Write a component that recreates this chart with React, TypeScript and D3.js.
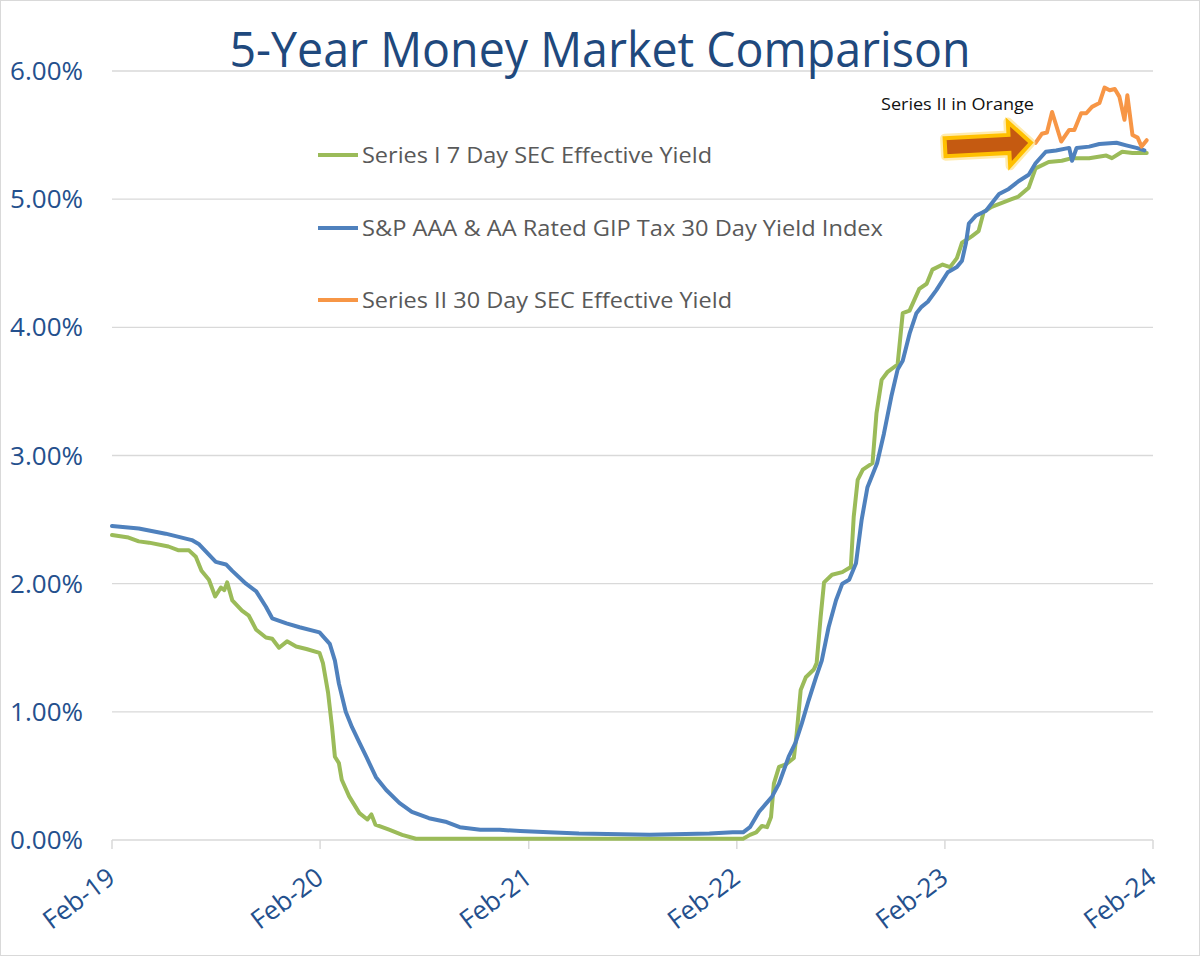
import { useEffect, useRef } from 'react'
import * as d3 from 'd3'

// axis
const xTickDates = ['2019-02-01', '2020-02-01', '2021-02-01', '2022-02-01', '2023-02-01', '2024-02-01']
const xTickLabels = ['Feb-19', 'Feb-20', 'Feb-21', 'Feb-22', 'Feb-23', 'Feb-24']
const yTicks = [0, 1, 2, 3, 4, 5, 6]

// Series I 7 Day SEC Effective Yield (green)
const seriesIDates = [
  '2019-02-01', '2019-03-02', '2019-03-20', '2019-04-07', '2019-05-11', '2019-05-29', '2019-06-16',
  '2019-06-28', '2019-07-08', '2019-07-21', '2019-08-01', '2019-08-11', '2019-08-17', '2019-08-22',
  '2019-08-31', '2019-09-17', '2019-09-29', '2019-10-12', '2019-10-29', '2019-11-09', '2019-11-21',
  '2019-12-05', '2019-12-21', '2020-01-08', '2020-01-31', '2020-02-06', '2020-02-15', '2020-02-22',
  '2020-02-27', '2020-03-05', '2020-03-10', '2020-03-23', '2020-04-10', '2020-04-24', '2020-05-01',
  '2020-05-08', '2020-06-01', '2020-06-24', '2020-07-18', '2021-02-01', '2022-02-12', '2022-02-24',
  '2022-03-07', '2022-03-17', '2022-03-26', '2022-04-02', '2022-04-07', '2022-04-16', '2022-04-28',
  '2022-05-12', '2022-05-17', '2022-05-24', '2022-06-02', '2022-06-16', '2022-06-21', '2022-06-28',
  '2022-07-04', '2022-07-18', '2022-08-05', '2022-08-20', '2022-08-25', '2022-09-01', '2022-09-10',
  '2022-09-27', '2022-10-04', '2022-10-13', '2022-10-23', '2022-11-10', '2022-11-19', '2022-12-01',
  '2022-12-18', '2022-12-31', '2023-01-10', '2023-01-28', '2023-02-10', '2023-02-22', '2023-03-03',
  '2023-03-20', '2023-04-01', '2023-04-10', '2023-04-24', '2023-05-29', '2023-06-10', '2023-06-28',
  '2023-07-10', '2023-08-02', '2023-08-25', '2023-09-12', '2023-10-12', '2023-11-11', '2023-11-21',
  '2023-12-09', '2023-12-27', '2024-01-21'
]
const seriesIValues = [
  2.38, 2.36, 2.33, 2.32, 2.29, 2.26, 2.26,
  2.21, 2.10, 2.03, 1.90, 1.97, 1.95, 2.01,
  1.87, 1.79, 1.75, 1.64, 1.58, 1.57, 1.50,
  1.55, 1.51, 1.49, 1.46, 1.38, 1.15, 0.88,
  0.65, 0.60, 0.47, 0.34, 0.21, 0.16, 0.20,
  0.12, 0.08, 0.04, 0.01, 0.01, 0.01, 0.04,
  0.06, 0.11, 0.10, 0.18, 0.44, 0.57, 0.59,
  0.64, 0.83, 1.17, 1.27, 1.33, 1.38, 1.74,
  2.01, 2.07, 2.09, 2.13, 2.52, 2.81, 2.89,
  2.94, 3.33, 3.59, 3.65, 3.71, 4.11, 4.13,
  4.30, 4.34, 4.45, 4.49, 4.47, 4.54, 4.66,
  4.71, 4.75, 4.90, 4.94, 5.00, 5.02, 5.09,
  5.24, 5.29, 5.30, 5.32, 5.32, 5.34, 5.32,
  5.37, 5.36, 5.36
]

// S&P AAA & AA Rated GIP Tax 30 Day Yield Index (blue)
const indexDates = [
  '2019-02-01', '2019-03-20', '2019-05-06', '2019-06-21', '2019-07-03', '2019-08-02', '2019-08-20',
  '2019-08-31', '2019-09-24', '2019-10-12', '2019-10-29', '2019-11-09', '2019-12-04', '2019-12-27',
  '2020-01-31', '2020-02-18', '2020-02-27', '2020-03-05', '2020-03-17', '2020-03-28', '2020-04-10',
  '2020-04-22', '2020-05-09', '2020-05-27', '2020-06-19', '2020-07-11', '2020-08-10', '2020-09-10',
  '2020-10-03', '2020-11-08', '2020-12-12', '2021-01-17', '2021-03-08', '2021-04-30', '2021-09-01',
  '2021-12-15', '2022-01-25', '2022-02-12', '2022-02-24', '2022-03-12', '2022-04-04', '2022-04-16',
  '2022-05-03', '2022-05-15', '2022-05-26', '2022-06-07', '2022-06-20', '2022-06-30', '2022-07-12',
  '2022-07-25', '2022-08-05', '2022-08-17', '2022-08-29', '2022-09-08', '2022-09-18', '2022-10-05',
  '2022-10-17', '2022-10-30', '2022-11-10', '2022-11-19', '2022-12-01', '2022-12-13', '2022-12-22',
  '2023-01-02', '2023-01-17', '2023-02-06', '2023-02-22', '2023-03-03', '2023-03-10', '2023-03-15',
  '2023-03-27', '2023-04-14', '2023-04-28', '2023-05-07', '2023-05-24', '2023-06-10', '2023-06-28',
  '2023-07-10', '2023-07-28', '2023-08-15', '2023-09-07', '2023-09-12', '2023-09-20', '2023-10-12',
  '2023-10-30', '2023-11-29', '2023-12-16', '2024-01-03', '2024-01-17'
]
const indexValues = [
  2.45, 2.43, 2.39, 2.34, 2.31, 2.17, 2.15,
  2.10, 2.00, 1.94, 1.82, 1.73, 1.69, 1.66,
  1.62, 1.53, 1.40, 1.22, 1.00, 0.88, 0.76,
  0.65, 0.49, 0.39, 0.29, 0.22, 0.17, 0.14,
  0.10, 0.08, 0.08, 0.07, 0.06, 0.05, 0.04,
  0.05, 0.06, 0.06, 0.10, 0.22, 0.34, 0.44,
  0.65, 0.76, 0.91, 1.09, 1.27, 1.40, 1.66,
  1.87, 2.00, 2.03, 2.16, 2.50, 2.75, 2.94,
  3.17, 3.46, 3.67, 3.74, 3.95, 4.11, 4.16,
  4.20, 4.29, 4.43, 4.47, 4.52, 4.66, 4.81,
  4.87, 4.91, 4.99, 5.04, 5.08, 5.14, 5.19,
  5.28, 5.37, 5.38, 5.40, 5.30, 5.40, 5.41,
  5.43, 5.44, 5.42, 5.40, 5.38
]

// Series II 30 Day SEC Effective Yield (orange)
const seriesIIDates = [
  '2023-07-10', '2023-07-21', '2023-07-30', '2023-08-08', '2023-08-24', '2023-09-07', '2023-09-16',
  '2023-09-28', '2023-10-07', '2023-10-17', '2023-10-30', '2023-11-08', '2023-11-17', '2023-11-26',
  '2023-12-04', '2023-12-13', '2023-12-18', '2023-12-27', '2024-01-05', '2024-01-12', '2024-01-21'
]
const seriesIIValues = [
  5.44, 5.51, 5.52, 5.68, 5.45, 5.54, 5.54,
  5.67, 5.67, 5.72, 5.75, 5.87, 5.85, 5.86,
  5.80, 5.62, 5.81, 5.50, 5.48, 5.41, 5.46
]

const legendLabels = [
  'Series I 7 Day SEC Effective Yield',
  'S&P AAA & AA Rated GIP Tax 30 Day Yield Index',
  'Series II 30 Day SEC Effective Yield'
]
const legendColors = ['#9BBB59', '#4F81BD', '#F79646']

const parse = d3.timeParse('%Y-%m-%d')

export default function App() {
  const ref = useRef<SVGSVGElement>(null)

  useEffect(() => {
    const svg = d3.select(ref.current)
    svg.selectAll('*').remove()

    const W = 1200
    const H = 956
    const x = d3.scaleTime()
      .domain([parse('2019-02-01')!, parse('2024-02-01')!])
      .range([112, 1153])
    const y = d3.scaleLinear().domain([0, 6]).range([840, 71])

    const font = "'Open Sans', sans-serif"
    const axisColor = '#24508D'

    svg.append('rect')
      .attr('x', 0.5).attr('y', 0.5)
      .attr('width', W - 1).attr('height', H - 1)
      .attr('fill', '#fff').attr('stroke', '#D9D9D9')

    // gridlines
    svg.append('g').selectAll('line')
      .data(yTicks.filter(d => d > 0))
      .enter().append('line')
      .attr('x1', x.range()[0]).attr('x2', x.range()[1])
      .attr('y1', d => y(d)).attr('y2', d => y(d))
      .attr('stroke', '#D9D9D9').attr('stroke-width', 1.3)

    // x axis line + ticks
    svg.append('line')
      .attr('x1', x.range()[0]).attr('x2', x.range()[1])
      .attr('y1', y(0)).attr('y2', y(0))
      .attr('stroke', '#D9D9D9').attr('stroke-width', 1.5)
    svg.append('g').selectAll('line')
      .data(xTickDates)
      .enter().append('line')
      .attr('x1', d => x(parse(d)!)).attr('x2', d => x(parse(d)!))
      .attr('y1', y(0)).attr('y2', y(0) + 9)
      .attr('stroke', '#D9D9D9').attr('stroke-width', 1.5)

    // y labels
    svg.append('g').selectAll('text')
      .data(yTicks)
      .enter().append('text')
      .attr('x', 83).attr('y', d => y(d) + 9)
      .attr('text-anchor', 'end')
      .style('font-family', font).style('font-size', '26px')
      .attr('fill', axisColor)
      .text(d => d3.format('.2f')(d) + '%')

    // x labels
    svg.append('g').selectAll('text')
      .data(xTickDates)
      .enter().append('text')
      .attr('transform', d => `translate(${x(parse(d)!) + 5},${y(0) + 41}) rotate(-37)`)
      .attr('text-anchor', 'end')
      .style('font-family', font).style('font-size', '26px')
      .attr('fill', axisColor)
      .text((d, i) => xTickLabels[i])

    // title
    svg.append('text')
      .attr('x', 600).attr('y', 67)
      .attr('text-anchor', 'middle')
      .attr('textLength', 741).attr('lengthAdjust', 'spacingAndGlyphs')
      .style('font-family', font).style('font-size', '49px')
      .attr('fill', '#1F497D')
      .text('5-Year Money Market Comparison')

    const line = d3.line<[Date, number]>()
      .x(d => x(d[0]))
      .y(d => y(d[1]))

    const series = [
      { dates: seriesIDates, values: seriesIValues, color: legendColors[0] },
      { dates: indexDates, values: indexValues, color: legendColors[1] },
      { dates: seriesIIDates, values: seriesIIValues, color: legendColors[2] }
    ]
    series.forEach(s => {
      const pts: [Date, number][] = s.dates.map((d, i) => [parse(d)!, s.values[i]])
      svg.append('path')
        .attr('d', line(pts))
        .attr('fill', 'none')
        .attr('stroke', s.color)
        .attr('stroke-width', 4)
        .attr('stroke-linejoin', 'round')
        .attr('stroke-linecap', 'round')
    })

    // legend
    const legendY = [155, 228, 300]
    const legendW = [350, 521, 370]
    const lg = svg.append('g')
    legendLabels.forEach((label, i) => {
      lg.append('line')
        .attr('x1', 318).attr('x2', 358)
        .attr('y1', legendY[i]).attr('y2', legendY[i])
        .attr('stroke', legendColors[i]).attr('stroke-width', 4)
      lg.append('text')
        .attr('x', 362).attr('y', legendY[i] + 8)
        .attr('textLength', legendW[i]).attr('lengthAdjust', 'spacingAndGlyphs')
        .style('font-family', font).style('font-size', '22px')
        .attr('fill', '#595959')
        .text(label)
    })

    // annotation arrow
    const arrow = svg.append('g').attr('transform', 'rotate(-3 988 145)')
    const arrowPts = [
      [945, 136], [1009, 136], [1009, 123], [1031, 145],
      [1009, 167], [1009, 154], [945, 154]
    ]
    const arrowPath = 'M' + arrowPts.map(p => p.join(',')).join('L') + 'Z'
    arrow.append('path').attr('d', arrowPath)
      .attr('fill', 'none').attr('stroke', '#FFE699').attr('stroke-width', 9)
      .attr('stroke-linejoin', 'round').attr('opacity', 0.8)
    arrow.append('path').attr('d', arrowPath)
      .attr('fill', '#C55A11').attr('stroke', '#FFC000').attr('stroke-width', 4)
      .attr('stroke-linejoin', 'miter')

    svg.append('text')
      .attr('x', 881).attr('y', 110)
      .attr('textLength', 153).attr('lengthAdjust', 'spacingAndGlyphs')
      .style('font-family', font).style('font-size', '17px')
      .attr('fill', '#111')
      .text('Series II in Orange')
  }, [])

  return (
    <svg ref={ref} width={1200} height={956}
      style={{ position: 'absolute', left: 0, top: 0, background: '#fff' }} />
  )
}
